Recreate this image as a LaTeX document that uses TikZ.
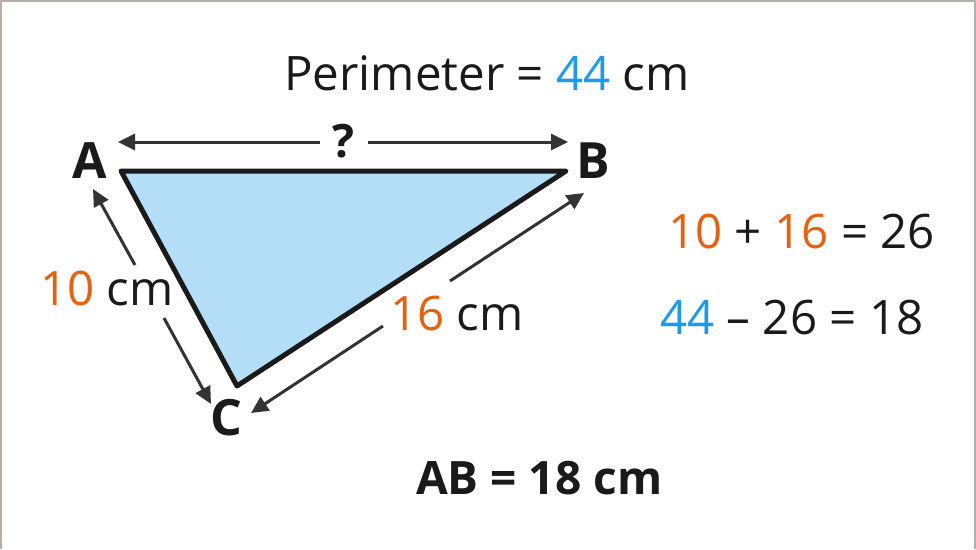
\documentclass[tikz,border=0pt]{standalone}
\usepackage{fontspec}
\setmainfont{Open Sans}
\usetikzlibrary{arrows.meta}
\definecolor{orng}{HTML}{E8610D}
\definecolor{blu}{HTML}{1A9BF0}
\definecolor{tri}{HTML}{B4DEF8}
\definecolor{ink}{HTML}{1A1A1A}
\definecolor{arr}{HTML}{333333}
\definecolor{frame}{HTML}{B8B0A8}
\tikzset{
  halfarrow/.style={draw=arr, line width=3pt, -{Triangle[length=17pt,width=16pt]}},
  txt/.style={inner sep=0pt, anchor=base west, text=ink, font=\fontsize{47.5}{52}\selectfont},
  vlabel/.style={inner sep=0pt, anchor=base west, text=ink, font=\fontsize{50}{54}\selectfont\bfseries},
}
\begin{document}
\begin{tikzpicture}[x=1pt,y=-1pt]
\useasboundingbox (0,0) rectangle (976,549);
\fill[white] (0,0) rectangle (976,549);
\draw[frame, line width=2pt] (1,549) -- (1,1) -- (975,1) -- (975,549);
% triangle
\coordinate (A) at (121,171);
\coordinate (B) at (566,171);
\coordinate (C) at (237,386);
\filldraw[fill=tri, draw=ink, line width=5pt, line join=round] (A) -- (B) -- (C) -- cycle;
% top arrow
\coordinate (T1) at (118,142);
\coordinate (T2) at (568,142);
\node[inner sep=0pt, anchor=base, text=ink, font=\fontsize{46}{50}\selectfont\bfseries] (q) at (343,157) {?};
\coordinate (G1) at (320,142);
\coordinate (G2) at (368,142);
\draw[halfarrow] (G1) -- (T1);
\draw[halfarrow] (G2) -- (T2);
% left arrow (split around its label)
\coordinate (L1) at (93,189);
\coordinate (L2) at (211,404);
\coordinate (LG1) at (135,265);
\coordinate (LG2) at (164,318);
\draw[halfarrow] (LG1) -- (L1);
\draw[halfarrow] (LG2) -- (L2);
% right arrow (split around its label)
\coordinate (R1) at (584,193);
\coordinate (R2) at (251,413);
\coordinate (RG1) at (450,281);
\coordinate (RG2) at (383,326);
\draw[halfarrow] (RG1) -- (R1);
\draw[halfarrow] (RG2) -- (R2);
% vertex labels
\node[vlabel] (la) at (72,178) {A};
\node[vlabel] (lb) at (576,178) {B};
\node[vlabel] (lc) at (210,435) {C};
% texts
\node[txt] (per) at (284,90) {Perimeter = \textcolor{blu}{44} cm};
\node[txt] (ten) at (40,305) {\textcolor{orng}{10} cm};
\node[txt] (six) at (390,330) {\textcolor{orng}{16} cm};
\node[txt] (eq1) at (668,248) {\textcolor{orng}{10} + \textcolor{orng}{16} = 26};
\node[txt] (eq2) at (660,334) {\textcolor{blu}{44} – 26 = 18};
\node[vlabel, font=\fontsize{46}{50}\selectfont\bfseries] (ab) at (416,494) {AB = 18 cm};
\end{tikzpicture}
\end{document}
